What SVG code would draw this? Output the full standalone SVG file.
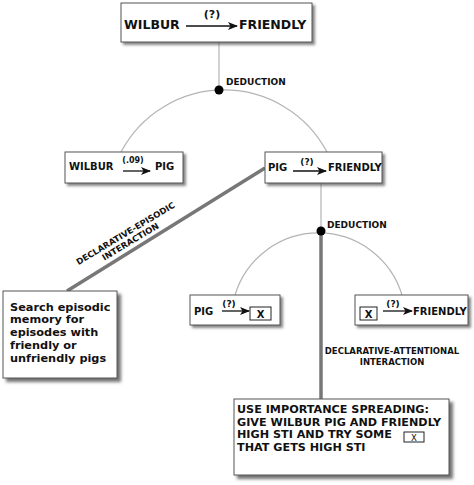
<svg xmlns="http://www.w3.org/2000/svg" width="474" height="485" viewBox="0 0 474 485">
<defs>
<style>
text{font-family:"DejaVu Sans",Verdana,"Liberation Sans",sans-serif;font-weight:bold;fill:#111}
.box{fill:#fff;stroke:#555;stroke-width:1}
.thin{fill:none;stroke:#b4b4b4;stroke-width:1.2}
.thick{fill:none;stroke:#777;stroke-width:3.5}
.arr{stroke:#111;stroke-width:1.3;fill:none}
.dot{fill:#000}
.lbl{font-size:8.5px}
.t10{font-size:10px}
.q{font-size:9px}
.s{font-size:11.3px}
.b{font-size:11.2px}
</style>
<filter id="sh" x="-10%" y="-10%" width="125%" height="135%">
<feDropShadow dx="2.5" dy="2.5" stdDeviation="1.3" flood-color="#555" flood-opacity="0.7"/>
</filter>
<filter id="sh2" x="-10%" y="-10%" width="125%" height="130%">
<feDropShadow dx="3.5" dy="3.5" stdDeviation="1.8" flood-color="#444" flood-opacity="0.75"/>
</filter>
<marker id="ah" markerUnits="userSpaceOnUse" markerWidth="10" markerHeight="8" refX="9" refY="4" orient="auto">
<path d="M0,0 L10,4 L0,8 L2.5,4 z" fill="#111"/>
</marker>
</defs>

<g id="connectors">
<line class="thin" x1="219" y1="42" x2="219" y2="90"/>
<path class="thin" d="M121,152 A116.5,116.5 0 0 1 327,152"/>
<line class="thin" x1="321" y1="183" x2="321" y2="231"/>
<path class="thin" d="M235,295 A87.2,87.2 0 0 1 402,295"/>
<line class="thick" x1="321" y1="231" x2="321" y2="400"/>
<line class="thick" x1="265" y1="168" x2="67" y2="291"/>
<circle class="dot" cx="219" cy="90" r="4.5"/>
<circle class="dot" cx="321" cy="231" r="4.5"/>
<text class="lbl" x="226" y="85" style="font-size:9px">DEDUCTION</text>
<text class="lbl" x="327" y="228" style="font-size:9px">DEDUCTION</text>
<g transform="translate(127,236) rotate(-31)">
<text class="lbl" x="0" y="0" text-anchor="middle">DECLARATIVE-EPISODIC</text>
<text class="lbl" x="0" y="9.5" text-anchor="middle">INTERACTION</text>
</g>
<text class="lbl" x="392" y="354" text-anchor="middle">DECLARATIVE-ATTENTIONAL</text>
<text class="lbl" x="392" y="365" text-anchor="middle">INTERACTION</text>
</g>

<g id="top">
<rect class="box" x="121" y="3" width="191" height="39" filter="url(#sh)"/>
<text x="124" y="29" style="font-size:12.5px">WILBUR</text>
<text x="212" y="18" text-anchor="middle" style="font-size:11px">(?)</text>
<line class="arr" x1="186" y1="26" x2="237" y2="26" marker-end="url(#ah)"/>
<text x="239" y="29" style="font-size:12.5px">FRIENDLY</text>
</g>

<g id="wilbur-pig">
<rect class="box" x="65" y="152" width="118" height="31" filter="url(#sh)"/>
<text class="t10" x="69" y="170">WILBUR</text>
<text x="133" y="163" text-anchor="middle" style="font-size:8px">(.09)</text>
<line class="arr" x1="123" y1="171" x2="150" y2="171" marker-end="url(#ah)"/>
<text class="t10" x="155" y="170">PIG</text>
</g>

<g id="pig-friendly">
<rect class="box" x="265" y="152" width="117" height="31" filter="url(#sh)"/>
<text class="t10" x="268" y="171">PIG</text>
<text class="q" x="307" y="165" text-anchor="middle">(?)</text>
<line class="arr" x1="293" y1="171" x2="326" y2="171" marker-end="url(#ah)"/>
<text class="t10" x="328" y="171">FRIENDLY</text>
</g>

<g id="pig-x">
<rect class="box" x="190" y="295" width="90" height="30" filter="url(#sh)"/>
<text class="t10" x="194" y="315">PIG</text>
<text class="q" x="229" y="307" text-anchor="middle">(?)</text>
<line class="arr" x1="222" y1="311" x2="249" y2="311" marker-end="url(#ah)"/>
<rect x="250" y="307" width="21" height="13" fill="#fff" stroke="#222" stroke-width="1"/>
<text class="t10" x="260.5" y="318" text-anchor="middle">X</text>
</g>

<g id="x-friendly">
<rect class="box" x="355" y="295" width="113" height="30" filter="url(#sh)"/>
<rect x="360" y="307" width="17" height="13" fill="#fff" stroke="#222" stroke-width="1"/>
<text class="t10" x="368.5" y="318" text-anchor="middle">X</text>
<text class="q" x="393" y="307" text-anchor="middle">(?)</text>
<line class="arr" x1="383" y1="311" x2="412" y2="311" marker-end="url(#ah)"/>
<text class="t10" x="413" y="315">FRIENDLY</text>
</g>

<g id="search">
<rect class="box" x="3" y="291" width="114" height="87" filter="url(#sh2)"/>
<text class="s" x="10" y="310.5">Search episodic</text>
<text class="s" x="10" y="323.3">memory for</text>
<text class="s" x="10" y="336">episodes with</text>
<text class="s" x="10" y="348.8">friendly or</text>
<text class="s" x="10" y="361.5">unfriendly pigs</text>
</g>

<g id="importance">
<rect class="box" x="234" y="399" width="215" height="76" filter="url(#sh2)"/>
<text class="b" x="237" y="413">USE IMPORTANCE SPREADING:</text>
<text class="b" x="237" y="425.6">GIVE WILBUR PIG AND FRIENDLY</text>
<text class="b" x="237" y="438.2">HIGH STI AND TRY SOME</text>
<text class="b" x="237" y="450.8">THAT GETS HIGH STI</text>
<rect x="404" y="432" width="20" height="10" fill="#fff" stroke="#222" stroke-width="1"/>
<text x="414" y="441" text-anchor="middle" style="font-size:8.5px;font-weight:normal">X</text>
</g>
</svg>
